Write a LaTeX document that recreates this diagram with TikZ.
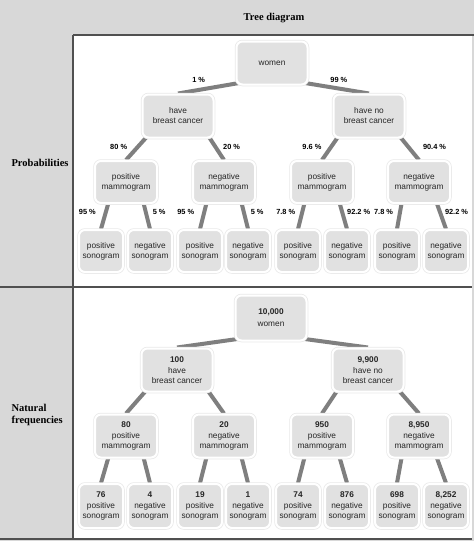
\documentclass[tikz,border=0pt]{standalone}
\usepackage{fontspec}
\setmainfont{Liberation Sans}
\newfontfamily\serifhead{Liberation Serif}
\usepackage{xcolor}
\definecolor{cPanel}{HTML}{D8D8D8}
\definecolor{cNode}{HTML}{E1E1E1}
\definecolor{cNodeRim}{HTML}{E9E9E9}
\definecolor{cEdge}{HTML}{7F7F7F}
\definecolor{cRule}{HTML}{505050}
\definecolor{cText}{HTML}{262626}
\usepackage{tikz}
\usetikzlibrary{backgrounds}
\tikzset{
  node-box/.style={fill=cNode,draw=white,line width=2pt,rounded corners=6pt,
    preaction={draw=cNodeRim,line width=3.5pt},text=cText,
    minimum width=71pt,minimum height=43pt,align=center,inner sep=1pt,
    font=\fontsize{8.3}{10}\selectfont},
  node-mid/.style={node-box,minimum width=62pt,minimum height=42pt},
  node-leaf/.style={node-box,minimum width=44pt,minimum height=42pt},
  edge/.style={draw=cEdge,line width=4pt},
  pct/.style={font=\fontsize{7.4}{8}\selectfont\bfseries,inner sep=1pt},
  heading/.style={font=\serifhead\fontsize{10.5}{12.5}\selectfont\bfseries},
  rule/.style={draw=cRule,line width=1.2pt},
}

\begin{document}
\begin{tikzpicture}[x=1pt,y=-1pt]
  \useasboundingbox (0,0) rectangle (474,541);
  % frame
  \begin{scope}[on background layer]
    \fill[cPanel] (0,0) rectangle (474,541);
    \fill[white] (73,35) rectangle (472,539);
    \draw[rule] (73,35) -- (474,35);
    \draw[rule] (73,35) -- (73,539);
    \draw[rule] (0,287) -- (472,287);
    \draw[rule] (0,539) -- (472,539);
  \end{scope}
  \node[heading] (title) at (274,18) {Tree diagram};
  \node[heading,anchor=west] (rowprob) at (8,163) {Probabilities};
  \node[heading,anchor=west,align=left] (rownat) at (8,415) {Natural\\frequencies};

  % probabilities
  \node[node-box] (w) at (272,63) {women};
  \node[node-box] (bc) at (178,116) {have\\breast cancer};
  \node[node-box] (nbc) at (369,116) {have no\\breast cancer};
  \node[node-mid] (bcpos) at (126,182) {positive\\mammogram};
  \node[node-mid] (bcneg) at (224,182) {negative\\mammogram};
  \node[node-mid] (nbcpos) at (322,182) {positive\\mammogram};
  \node[node-mid] (nbcneg) at (419,182) {negative\\mammogram};
  \foreach \i/\x/\kind in {1/101/positive, 2/150/negative, 3/200/positive, 4/248/negative,
      5/298/positive, 6/347/negative, 7/397/positive, 8/446/negative}
    \node[node-leaf] (s\i) at (\x,251) {\kind\\sonogram};

  \begin{scope}[on background layer]
    \draw[edge] ([xshift=-30pt,yshift=3pt]w.south) -- node[pct,above left=2pt]{1 \%} (bc.north);
    \draw[edge] ([xshift=30pt,yshift=3pt]w.south) -- node[pct,pos=0.55,above=3pt]{99 \%} (nbc.north);
    \draw[edge] ([xshift=-30pt,yshift=3pt]bc.south) -- node[pct,pos=0.45,left=8pt]{80 \%} (bcpos.north);
    \draw[edge] ([xshift=30pt,yshift=3pt]bc.south) -- node[pct,pos=0.45,right=5pt]{20 \%} (bcneg.north);
    \draw[edge] ([xshift=-30pt,yshift=3pt]nbc.south) -- node[pct,pos=0.45,left=7pt]{9.6 \%} (nbcpos.north);
    \draw[edge] ([xshift=30pt,yshift=3pt]nbc.south) -- node[pct,pos=0.45,right=12pt]{90.4 \%} (nbcneg.north);
    \draw[edge] ([xshift=-17pt,yshift=3pt]bcpos.south) -- node[pct,pos=0.4,left=7pt]{95 \%} (s1.north);
    \draw[edge] ([xshift=17pt,yshift=3pt]bcpos.south) -- node[pct,pos=0.4,right=4pt]{5 \%} (s2.north);
    \draw[edge] ([xshift=-17pt,yshift=3pt]bcneg.south) -- node[pct,pos=0.4,left=7pt]{95 \%} (s3.north);
    \draw[edge] ([xshift=17pt,yshift=3pt]bcneg.south) -- node[pct,pos=0.4,right=4pt]{5 \%} (s4.north);
    \draw[edge] ([xshift=-17pt,yshift=3pt]nbcpos.south) -- node[pct,pos=0.4,left=4pt]{7.8 \%} (s5.north);
    \draw[edge] ([xshift=17pt,yshift=3pt]nbcpos.south) -- node[pct,pos=0.4,right=2pt]{92.2 \%} (s6.north);
    \draw[edge] ([xshift=-17pt,yshift=3pt]nbcneg.south) -- node[pct,pos=0.4,left=4pt]{7.8 \%} (s7.north);
    \draw[edge] ([xshift=17pt,yshift=3pt]nbcneg.south) -- node[pct,pos=0.4,right=2pt]{92.2 \%} (s8.north);
  \end{scope}

  % natural frequencies
  \node[node-box,minimum height=45pt] (fw) at (271,318) {\textbf{10,000}\\[2pt]women};
  \node[node-box] (fbc) at (177,370) {\textbf{100}\\[1pt]have\\breast cancer};
  \node[node-box] (fnbc) at (368,370) {\textbf{9,900}\\[1pt]have no\\breast cancer};
  \node[node-mid,minimum height=43pt] (fbcpos) at (126,436) {\textbf{80}\\[1pt]positive\\mammogram};
  \node[node-mid,minimum height=43pt] (fbcneg) at (224,436) {\textbf{20}\\[1pt]negative\\mammogram};
  \node[node-mid,minimum height=43pt] (fnbcpos) at (322,436) {\textbf{950}\\[1pt]positive\\mammogram};
  \node[node-mid,minimum height=43pt] (fnbcneg) at (419,436) {\textbf{8,950}\\[1pt]negative\\mammogram};
  \foreach \i/\x/\n/\kind in {1/101/76/positive, 2/150/4/negative, 3/200/19/positive, 4/248/1/negative,
      5/298/74/positive, 6/347/876/negative, 7/397/698/positive, 8/446/{8,252}/negative}
    \node[node-leaf,minimum height=44pt] (f\i) at (\x,506) {\textbf{\n}\\[1pt]\kind\\sonogram};

  \begin{scope}[on background layer]
    \foreach \p/\c/\dx in {fw/fbc/-30, fw/fnbc/30, fbc/fbcpos/-30, fbc/fbcneg/30,
        fnbc/fnbcpos/-30, fnbc/fnbcneg/30, fbcpos/f1/-17, fbcpos/f2/17,
        fbcneg/f3/-17, fbcneg/f4/17, fnbcpos/f5/-17, fnbcpos/f6/17,
        fnbcneg/f7/-17, fnbcneg/f8/17}
      \draw[edge] ([xshift=\dx pt,yshift=3pt]\p.south) -- (\c.north);
  \end{scope}
\end{tikzpicture}
\end{document}
